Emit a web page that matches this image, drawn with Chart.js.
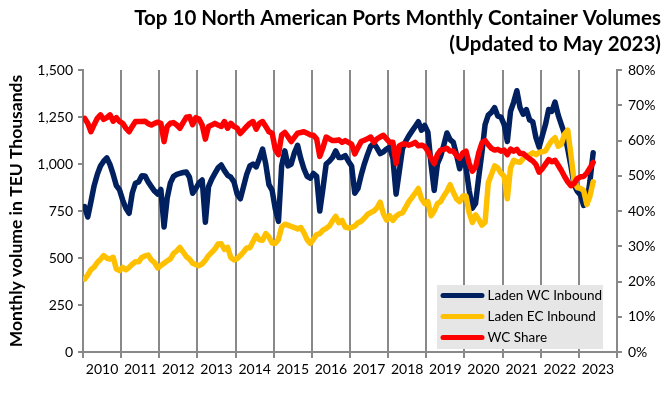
<!DOCTYPE html>
<html>
<head>
<meta charset="utf-8">
<script src="https://cdn.jsdelivr.net/npm/chart.js@4.4.0/dist/chart.umd.min.js"></script>
<style>
  html, body { margin: 0; padding: 0; background: #fff; }
</style>
</head>
<body>
<canvas id="ports" width="669" height="399"></canvas>
<script>
// monthly, Jan 2010 .. May 2023
var startYear = 2010;
var yearLabels = [2010, 2011, 2012, 2013, 2014, 2015, 2016, 2017, 2018, 2019, 2020, 2021, 2022, 2023];

// Laden WC inbound, TEU thousands
var wcInbound = [
  774, 718, 800, 885, 945, 990, 1015, 1033, 997, 945, 885, 862,
  808, 765, 738, 846, 898, 905, 938, 937, 905, 880, 856, 840,
  865, 665, 820, 900, 935, 945, 950, 955, 958, 930, 845, 870,
  900, 915, 690, 880, 920, 950, 980, 995, 965, 940, 930, 905,
  840, 815, 880, 945, 990, 1000, 985, 1030, 1080, 1000, 890, 860,
  760, 695, 990, 1070, 990, 1000, 1060, 1100, 1030, 975, 935, 925,
  950, 935, 750, 870, 1000, 1015, 1035, 1070, 1035, 1035, 1045, 1015,
  990, 845, 870, 940, 1000, 1050, 1095, 1110, 1085, 1055, 1065, 1080,
  1090, 1030, 840, 960, 1080, 1120, 1150, 1175, 1200, 1225, 1180, 1205,
  1170, 1000, 860, 1000, 1040, 1100, 1165, 1130, 1115, 1050, 975, 1040,
  980, 860, 765, 790, 930, 1060, 1210, 1260, 1275, 1300, 1255, 1250,
  1210, 1120, 1280, 1330, 1390, 1300, 1265, 1290, 1235, 1225, 1140, 1090,
  1150, 1210, 1290, 1280, 1330, 1260, 1210, 1160, 1080, 990, 890, 855,
  835, 780, 790, 910, 1060
];

// Laden EC inbound, TEU thousands
var ecInbound = [
  388, 410, 438, 452, 476, 493, 513, 499, 495, 504, 441, 433,
  450, 438, 450, 467, 480, 480, 503, 511, 516, 490, 476, 447,
  460, 472, 485, 495, 525, 538, 556, 532, 508, 494, 472, 465,
  459, 469, 488, 513, 530, 548, 575, 576, 546, 557, 503, 490,
  497, 513, 532, 553, 555, 588, 620, 597, 595, 630, 612, 580,
  578, 600, 665, 680, 675, 668, 662, 655, 662, 635, 598, 578,
  600, 625, 630, 648, 658, 670, 698, 722, 688, 700, 665, 660,
  662, 670, 688, 695, 712, 732, 742, 750, 767, 797, 735, 702,
  725, 700, 722, 735, 740, 770, 800, 822, 845, 870, 815, 790,
  800, 725, 750, 790, 800, 830, 855, 890, 850, 815, 800, 830,
  830, 740, 690, 730, 705, 675, 690, 900, 945, 990, 980, 952,
  935, 815, 980, 1020, 1012, 1010, 1030, 1045, 1048, 1060, 1050, 1062,
  1065, 1070, 1100, 1125, 1140, 1095, 1105, 1160, 1180, 1050, 910, 875,
  870, 860, 785, 830, 905
];

// WC share, %
var wcShare = [
  66.3, 64.9, 62.5, 64.5, 66.3, 67.3, 66.0, 66.5, 67.3, 65.5, 66.5, 65.4,
  64.9, 63.5, 62.5, 64.0, 65.4, 65.4, 65.4, 65.5, 64.8, 64.4, 64.9, 65.2,
  64.9, 59.7, 64.0, 64.9, 65.1, 64.4, 63.5, 65.1, 66.6, 66.8, 64.5, 66.5,
  66.1, 64.4, 60.4, 64.0, 64.4, 64.9, 64.4, 64.0, 65.4, 63.5, 64.9, 64.0,
  63.5, 62.0, 63.0, 64.0, 64.9, 65.4, 63.2, 64.9, 65.4, 64.0, 62.5, 62.1,
  57.5, 56.0, 61.6, 62.3, 61.1, 59.7, 60.9, 62.1, 62.3, 62.5, 62.1, 61.6,
  61.5, 60.5, 55.5, 58.0, 61.0, 60.5, 60.0, 60.0, 60.2, 59.5, 60.0, 59.5,
  59.0, 56.2, 58.0, 59.7, 60.1, 60.5, 61.0, 59.5, 60.5, 61.0, 61.5, 60.5,
  59.5, 59.5, 53.5, 58.5, 59.0, 59.0, 58.7, 59.0, 59.5, 58.5, 58.7, 58.3,
  57.0, 55.0, 53.5, 56.0, 57.3, 57.5, 57.8, 57.0, 57.0, 55.8, 55.0, 56.5,
  57.0, 53.5, 51.3, 52.5, 56.5, 59.3, 60.0, 58.8, 57.8, 57.3, 57.5, 57.0,
  57.3, 56.0, 57.6, 57.0, 57.5, 56.3, 56.3, 55.5, 54.8, 54.2, 53.2, 51.0,
  52.0, 53.3, 54.6, 54.0, 54.4, 53.0, 51.5, 49.8, 48.3, 47.2, 47.8, 49.2,
  49.7, 49.8, 50.8, 52.2, 53.8
];

var gray = '#898989';
var fontName = 'Lato';

// month i sits in the middle of its month on a year scale
function toPoints(values) {
  return values.map(function (v, i) {
    return { x: startYear + (i + 0.5) / 12, y: v };
  });
}

// legend drawn as a grey box inside the plot, bottom right
var boxLegend = {
  id: 'boxLegend',
  afterDraw: function (chart) {
    var ctx = chart.ctx;
    var area = chart.chartArea;
    var x = area.right - 180, y = area.bottom - 67;
    ctx.save();
    ctx.fillStyle = '#e7e6e6';
    ctx.fillRect(x, y, 166, 64);
    ctx.font = '13.5px ' + fontName;
    ctx.textBaseline = 'middle';
    chart.data.datasets.forEach(function (ds, i) {
      var ly = y + 10.5 + i * 21;
      ctx.strokeStyle = ds.borderColor;
      ctx.lineWidth = 5;
      ctx.lineCap = 'round';
      ctx.beginPath();
      ctx.moveTo(x + 6, ly);
      ctx.lineTo(x + 45, ly);
      ctx.stroke();
      ctx.fillStyle = '#000';
      ctx.fillText(ds.label, x + 50.5, ly + 0.5);
    });
    ctx.restore();
  }
};

var lineStyle = {
  borderWidth: 5.5,
  pointRadius: 0,
  tension: 0,
  borderJoinStyle: 'round',
  borderCapStyle: 'round'
};

new Chart(document.getElementById('ports'), {
  type: 'line',
  data: {
    datasets: [
      Object.assign({ label: 'Laden WC Inbound', data: toPoints(wcInbound), borderColor: '#002060', yAxisID: 'y', order: 3 }, lineStyle),
      Object.assign({ label: 'Laden EC Inbound', data: toPoints(ecInbound), borderColor: '#ffc000', yAxisID: 'y', order: 2 }, lineStyle),
      Object.assign({ label: 'WC Share', data: toPoints(wcShare), borderColor: '#ff0000', yAxisID: 'y1', order: 1 }, lineStyle)
    ]
  },
  plugins: [boxLegend],
  options: {
    responsive: false,
    animation: false,
    devicePixelRatio: 1,
    layout: { padding: { left: 0, right: 8, top: 0, bottom: 0 } },
    plugins: {
      legend: { display: false },
      tooltip: { enabled: false },
      title: {
        display: true,
        text: ['Top 10 North American Ports Monthly Container Volumes', '(Updated to May 2023)'],
        align: 'end',
        color: '#000',
        font: { family: fontName, size: 20.5, weight: 'bold', lineHeight: 1.27 },
        padding: { top: 5, bottom: 13 }
      }
    },
    scales: {
      x: {
        type: 'linear',
        min: startYear,
        max: startYear + yearLabels.length,
        afterFit: function (s) { s.height = 47; },
        ticks: {
          stepSize: 0.5,
          autoSkip: false,
          maxRotation: 0,
          padding: 3,
          color: '#000',
          font: { family: fontName, size: 14 },
          callback: function (v) {
            var k = Math.floor(v) - startYear;
            return v % 1 ? String(yearLabels[k]) : '';
          }
        },
        grid: {
          lineWidth: 2,
          tickLength: 6,
          color: function (c) {
            return c.tick && c.tick.value % 1 === 0 ? gray : 'rgba(0,0,0,0)';
          }
        },
        border: { color: gray, width: 2 }
      },
      y: {
        position: 'left',
        min: 0,
        max: 1500,
        afterFit: function (s) { s.width = 83; },
        ticks: {
          stepSize: 250,
          padding: 5,
          color: '#000',
          font: { family: fontName, size: 14 },
          callback: function (v) { return v.toLocaleString('en-US'); }
        },
        grid: { drawOnChartArea: false, tickLength: 5, color: gray, lineWidth: 2 },
        border: { color: gray, width: 2 },
        title: {
          display: true,
          text: 'Monthly volume in TEU Thousands',
          color: '#000',
          font: { family: fontName, size: 17.5, weight: 'bold' },
          padding: { top: 6, bottom: 0 }
        }
      },
      y1: {
        position: 'right',
        min: 0,
        max: 80,
        afterFit: function (s) { s.width = 44; },
        ticks: {
          stepSize: 10,
          padding: 6,
          color: '#000',
          font: { family: fontName, size: 14 },
          callback: function (v) { return v + '%'; }
        },
        grid: { drawOnChartArea: false, tickLength: 5, color: gray, lineWidth: 2 },
        border: { color: gray, width: 2 }
      }
    }
  }
});
</script>
</body>
</html>
